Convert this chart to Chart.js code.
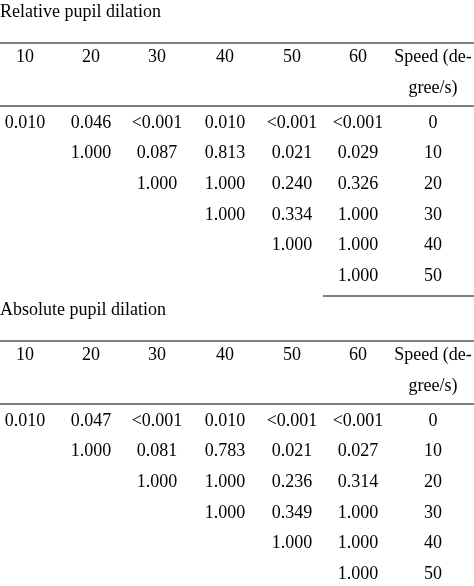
<!DOCTYPE html>
<html><head><meta charset="utf-8">
<script src="https://cdn.jsdelivr.net/npm/chart.js@4/dist/chart.umd.min.js"></script>
<style>html,body{margin:0;padding:0;background:#fff}#wrap{width:474px;height:586px}</style>
</head><body><div id="wrap"><canvas id="c"></canvas></div>
<script>
// Tabelle: p-Werte pro Geschwindigkeit
const columns = ["10","20","30","40","50","60"];
const speeds = ["0","10","20","30","40","50"];
const relative = [
  ["0.010","0.046","<0.001","0.010","<0.001","<0.001"],
  ["1.000","0.087","0.813","0.021","0.029"],
  ["1.000","1.000","0.240","0.326"],
  ["1.000","0.334","1.000"],
  ["1.000","1.000"],
  ["1.000"]
];
const absolute = [
  ["0.010","0.047","<0.001","0.010","<0.001","<0.001"],
  ["1.000","0.081","0.783","0.021","0.027"],
  ["1.000","1.000","0.236","0.314"],
  ["1.000","0.349","1.000"],
  ["1.000","1.000"],
  ["1.000"]
];
const titles = ["Relative pupil dilation","Absolute pupil dilation"];

const colX = [25,91,157,225,292,358];
const speedX = 433;
const blocks = [{top:0, data:relative},{top:298, data:absolute}];

// Linien als Datensätze
const rules = [];
blocks.forEach((b,k)=>{
  rules.push([[0,b.top+43],[474,b.top+43]]);
  rules.push([[0,b.top+106],[474,b.top+106]]);
});
rules.push([[323,296],[474,296]]);
rules.push([[323,594],[474,594]]);

const datasets = rules.map(r=>({
  data: r.map(p=>({x:p[0],y:p[1]})),
  showLine:true, borderColor:'#000', borderWidth:1, pointRadius:0
}));

const textPlugin = {
  id:'tableText',
  afterDatasetsDraw(chart){
    const ctx = chart.ctx, xs = chart.scales.x, ys = chart.scales.y;
    ctx.save();
    ctx.fillStyle = '#000';
    ctx.font = '18px "Liberation Serif", "Times New Roman", serif';
    ctx.textBaseline = 'middle';
    const put = (t,x,y,align)=>{ctx.textAlign=align||'center';ctx.fillText(t,xs.getPixelForValue(x),ys.getPixelForValue(y));};
    blocks.forEach((b,k)=>{
      put(titles[k],0,b.top+12,'left');
      columns.forEach((c,i)=>put(c,colX[i],b.top+57));
      put("Speed (de-",speedX,b.top+57);
      put("gree/s)",speedX,b.top+88);
      b.data.forEach((row,r)=>{
        const y = b.top+123+r*30.6;
        row.forEach((v,j)=>put(v,colX[r+j],y));
        put(speeds[r],speedX,y);
      });
    });
    ctx.restore();
  }
};

new Chart(document.getElementById('c'),{
  type:'scatter',
  data:{datasets},
  options:{
    responsive:true, maintainAspectRatio:false, animation:false,
    layout:{padding:0},
    plugins:{legend:{display:false},tooltip:{enabled:false}},
    scales:{
      x:{type:'linear',min:0,max:474,display:false},
      y:{type:'linear',min:0,max:586,reverse:true,display:false}
    }
  },
  plugins:[textPlugin]
});
</script></body></html>
